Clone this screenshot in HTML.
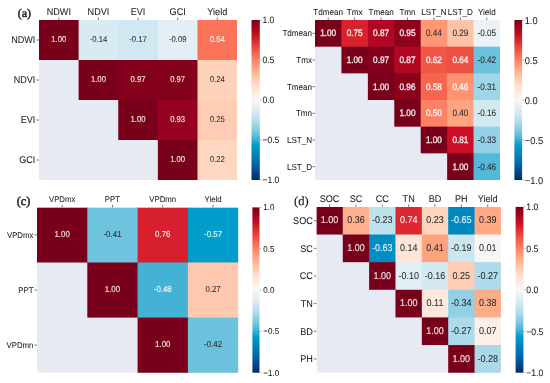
<!DOCTYPE html>
<html><head><meta charset="utf-8"><style>
html,body{margin:0;padding:0;background:#fff;}
body{width:550px;height:383px;overflow:hidden;}
svg{display:block;filter:blur(0.35px);}
text{text-rendering:geometricPrecision;}
text{font-family:"Liberation Sans",Arial,sans-serif;fill:#1e1e1e;stroke:#1e1e1e;stroke-width:0.06;}
.an{stroke-width:0.1;}
.w{stroke-width:0.35;}
.pl{font-family:"Liberation Serif","Times New Roman",serif;fill:#111;stroke:#111;stroke-width:0.4;}
.pd{stroke-width:0.12;}
.b{font-weight:bold;stroke-width:0;}
</style></head><body>
<svg width="550" height="383" viewBox="0 0 550 383">
<defs>
<linearGradient id="cbg" x1="0" y1="1" x2="0" y2="0">
<stop offset="0.0000" stop-color="#002c62"/>
<stop offset="0.0312" stop-color="#003f7b"/>
<stop offset="0.0625" stop-color="#005193"/>
<stop offset="0.0938" stop-color="#0063ab"/>
<stop offset="0.1250" stop-color="#0072b5"/>
<stop offset="0.1562" stop-color="#0081bd"/>
<stop offset="0.1875" stop-color="#008fc3"/>
<stop offset="0.2188" stop-color="#009ecb"/>
<stop offset="0.2500" stop-color="#38aed3"/>
<stop offset="0.2812" stop-color="#63bedb"/>
<stop offset="0.3125" stop-color="#83cbe2"/>
<stop offset="0.3438" stop-color="#9ed5e8"/>
<stop offset="0.3750" stop-color="#b7deed"/>
<stop offset="0.4062" stop-color="#cde7f1"/>
<stop offset="0.4375" stop-color="#dcedf3"/>
<stop offset="0.4688" stop-color="#eaf2f5"/>
<stop offset="0.5000" stop-color="#f8f7f6"/>
<stop offset="0.5312" stop-color="#fdeee7"/>
<stop offset="0.5625" stop-color="#ffe6d8"/>
<stop offset="0.5938" stop-color="#ffddc9"/>
<stop offset="0.6250" stop-color="#ffcdb4"/>
<stop offset="0.6562" stop-color="#ffbd9e"/>
<stop offset="0.6875" stop-color="#ffac88"/>
<stop offset="0.7188" stop-color="#ff9776"/>
<stop offset="0.7500" stop-color="#ff8165"/>
<stop offset="0.7812" stop-color="#f86b53"/>
<stop offset="0.8125" stop-color="#ef5445"/>
<stop offset="0.8438" stop-color="#e43c3a"/>
<stop offset="0.8750" stop-color="#d8232f"/>
<stop offset="0.9062" stop-color="#c80e26"/>
<stop offset="0.9375" stop-color="#ad0622"/>
<stop offset="0.9688" stop-color="#91011d"/>
<stop offset="1.0000" stop-color="#79001a"/>
</linearGradient>
</defs>
<clipPath id="clipa"><rect x="39" y="20" width="198.10" height="160.00"/></clipPath>
<g clip-path="url(#clipa)">
<rect x="39" y="20" width="198.10" height="160.00" fill="#e8eaf3"/>
<rect x="39.00" y="20.00" width="40.62" height="40.00" fill="#79001a"/>
<rect x="78.62" y="20.00" width="40.62" height="41.00" fill="#d8ebf3"/>
<rect x="118.24" y="20.00" width="40.62" height="41.00" fill="#d1e8f2"/>
<rect x="157.86" y="20.00" width="40.62" height="41.00" fill="#e3eff4"/>
<rect x="197.48" y="20.00" width="40.62" height="41.00" fill="#fb745a"/>
<rect x="78.62" y="60.00" width="40.62" height="40.00" fill="#79001a"/>
<rect x="118.24" y="60.00" width="40.62" height="41.00" fill="#83001b"/>
<rect x="157.86" y="60.00" width="40.62" height="41.00" fill="#83001b"/>
<rect x="197.48" y="60.00" width="40.62" height="41.00" fill="#ffd2ba"/>
<rect x="118.24" y="100.00" width="40.62" height="40.00" fill="#79001a"/>
<rect x="157.86" y="100.00" width="40.62" height="41.00" fill="#95011e"/>
<rect x="197.48" y="100.00" width="40.62" height="41.00" fill="#ffcdb4"/>
<rect x="157.86" y="140.00" width="40.62" height="41.00" fill="#79001a"/>
<rect x="197.48" y="140.00" width="40.62" height="41.00" fill="#ffd6bf"/>
</g>
<text transform="translate(58.81 42.25) scale(1 1.1)" text-anchor="middle" font-size="7.7" class="an w" style="fill:#efe0e3;stroke:#efe0e3;stroke-width:0.15">1.00</text>
<text transform="translate(98.43 42.25) scale(1 1.1)" text-anchor="middle" font-size="7.7" class="an" style="fill:#2a2a2a;stroke:#2a2a2a;stroke-width:0.05">-0.14</text>
<text transform="translate(138.05 42.25) scale(1 1.1)" text-anchor="middle" font-size="7.7" class="an" style="fill:#2a2a2a;stroke:#2a2a2a;stroke-width:0.05">-0.17</text>
<text transform="translate(177.67 42.25) scale(1 1.1)" text-anchor="middle" font-size="7.7" class="an" style="fill:#2a2a2a;stroke:#2a2a2a;stroke-width:0.05">-0.09</text>
<text transform="translate(217.29 42.25) scale(1 1.1)" text-anchor="middle" font-size="7.7" class="an w" style="fill:#ffeeeb;stroke:#ffeeeb;stroke-width:0.15">0.54</text>
<text transform="translate(98.43 82.25) scale(1 1.1)" text-anchor="middle" font-size="7.7" class="an w" style="fill:#efe0e3;stroke:#efe0e3;stroke-width:0.15">1.00</text>
<text transform="translate(138.05 82.25) scale(1 1.1)" text-anchor="middle" font-size="7.7" class="an w" style="fill:#f0e0e4;stroke:#f0e0e4;stroke-width:0.15">0.97</text>
<text transform="translate(177.67 82.25) scale(1 1.1)" text-anchor="middle" font-size="7.7" class="an w" style="fill:#f0e0e4;stroke:#f0e0e4;stroke-width:0.15">0.97</text>
<text transform="translate(217.29 82.25) scale(1 1.1)" text-anchor="middle" font-size="7.7" class="an" style="fill:#2a2a2a;stroke:#2a2a2a;stroke-width:0.05">0.24</text>
<text transform="translate(138.05 122.25) scale(1 1.1)" text-anchor="middle" font-size="7.7" class="an w" style="fill:#efe0e3;stroke:#efe0e3;stroke-width:0.15">1.00</text>
<text transform="translate(177.67 122.25) scale(1 1.1)" text-anchor="middle" font-size="7.7" class="an w" style="fill:#f2e1e4;stroke:#f2e1e4;stroke-width:0.15">0.93</text>
<text transform="translate(217.29 122.25) scale(1 1.1)" text-anchor="middle" font-size="7.7" class="an" style="fill:#2a2a2a;stroke:#2a2a2a;stroke-width:0.05">0.25</text>
<text transform="translate(177.67 162.25) scale(1 1.1)" text-anchor="middle" font-size="7.7" class="an w" style="fill:#efe0e3;stroke:#efe0e3;stroke-width:0.15">1.00</text>
<text transform="translate(217.29 162.25) scale(1 1.1)" text-anchor="middle" font-size="7.7" class="an" style="fill:#2a2a2a;stroke:#2a2a2a;stroke-width:0.05">0.22</text>
<text transform="translate(58.81 15.40) scale(1 1.07)" text-anchor="middle" font-size="9.1">NDWI</text>
<line x1="58.81" x2="58.81" y1="17.5" y2="20" stroke="#555" stroke-width="0.8"/>
<text transform="translate(98.43 15.40) scale(1 1.07)" text-anchor="middle" font-size="9.1">NDVI</text>
<line x1="98.43" x2="98.43" y1="17.5" y2="20" stroke="#555" stroke-width="0.8"/>
<text transform="translate(138.05 15.40) scale(1 1.07)" text-anchor="middle" font-size="9.1">EVI</text>
<line x1="138.05" x2="138.05" y1="17.5" y2="20" stroke="#555" stroke-width="0.8"/>
<text transform="translate(177.67 15.40) scale(1 1.07)" text-anchor="middle" font-size="9.1">GCI</text>
<line x1="177.67" x2="177.67" y1="17.5" y2="20" stroke="#555" stroke-width="0.8"/>
<text transform="translate(217.29 15.40) scale(1 1.07)" text-anchor="middle" font-size="9.1">Yield</text>
<line x1="217.29" x2="217.29" y1="17.5" y2="20" stroke="#555" stroke-width="0.8"/>
<text transform="translate(35.40 43.49) scale(1 1.07)" text-anchor="end" font-size="9.1">NDWI</text>
<line x1="36.5" x2="39" y1="40.00" y2="40.00" stroke="#555" stroke-width="0.8"/>
<text transform="translate(35.40 83.49) scale(1 1.07)" text-anchor="end" font-size="9.1">NDVI</text>
<line x1="36.5" x2="39" y1="80.00" y2="80.00" stroke="#555" stroke-width="0.8"/>
<text transform="translate(35.40 123.49) scale(1 1.07)" text-anchor="end" font-size="9.1">EVI</text>
<line x1="36.5" x2="39" y1="120.00" y2="120.00" stroke="#555" stroke-width="0.8"/>
<text transform="translate(35.40 163.49) scale(1 1.07)" text-anchor="end" font-size="9.1">GCI</text>
<line x1="36.5" x2="39" y1="160.00" y2="160.00" stroke="#555" stroke-width="0.8"/>
<rect x="251.5" y="20" width="8.30" height="160.00" fill="url(#cbg)"/>
<line x1="259.8" x2="261.8" y1="20.00" y2="20.00" stroke="#888" stroke-width="0.6"/>
<text transform="translate(262.40 23.29) scale(1 1.07)" font-size="8.6">1.0</text>
<line x1="259.8" x2="261.8" y1="60.00" y2="60.00" stroke="#888" stroke-width="0.6"/>
<text transform="translate(262.40 63.29) scale(1 1.07)" font-size="8.6">0.5</text>
<line x1="259.8" x2="261.8" y1="100.00" y2="100.00" stroke="#888" stroke-width="0.6"/>
<text transform="translate(262.40 103.29) scale(1 1.07)" font-size="8.6">0.0</text>
<line x1="259.8" x2="261.8" y1="140.00" y2="140.00" stroke="#888" stroke-width="0.6"/>
<text transform="translate(262.40 143.29) scale(1 1.07)" font-size="8.6">−0.5</text>
<line x1="259.8" x2="261.8" y1="180.00" y2="180.00" stroke="#888" stroke-width="0.6"/>
<text transform="translate(262.40 183.29) scale(1 1.07)" font-size="8.6">−1.0</text>
<text class="pl" x="17.8" y="17.0" font-size="12.0">(a)</text>
<clipPath id="clipb"><rect x="315" y="20" width="185.00" height="160.00"/></clipPath>
<g clip-path="url(#clipb)">
<rect x="315" y="20" width="185.00" height="160.00" fill="#e8eaf3"/>
<rect x="315.00" y="20.00" width="27.43" height="26.67" fill="#79001a"/>
<rect x="341.43" y="20.00" width="27.43" height="27.67" fill="#d8232f"/>
<rect x="367.86" y="20.00" width="27.43" height="27.67" fill="#b00722"/>
<rect x="394.29" y="20.00" width="27.43" height="27.67" fill="#8e011d"/>
<rect x="420.71" y="20.00" width="27.43" height="27.67" fill="#ff9776"/>
<rect x="447.14" y="20.00" width="27.43" height="27.67" fill="#ffc3a7"/>
<rect x="473.57" y="20.00" width="27.43" height="27.67" fill="#ecf3f6"/>
<rect x="341.43" y="46.67" width="27.43" height="26.67" fill="#79001a"/>
<rect x="367.86" y="46.67" width="27.43" height="27.67" fill="#83001b"/>
<rect x="394.29" y="46.67" width="27.43" height="27.67" fill="#b00722"/>
<rect x="420.71" y="46.67" width="27.43" height="27.67" fill="#f05747"/>
<rect x="447.14" y="46.67" width="27.43" height="27.67" fill="#ed5144"/>
<rect x="473.57" y="46.67" width="27.43" height="27.67" fill="#6cc1dd"/>
<rect x="367.86" y="73.33" width="27.43" height="26.67" fill="#79001a"/>
<rect x="394.29" y="73.33" width="27.43" height="27.67" fill="#8a011c"/>
<rect x="420.71" y="73.33" width="27.43" height="27.67" fill="#f6664f"/>
<rect x="447.14" y="73.33" width="27.43" height="27.67" fill="#ff9271"/>
<rect x="473.57" y="73.33" width="27.43" height="27.67" fill="#9ed5e8"/>
<rect x="394.29" y="100.00" width="27.43" height="26.67" fill="#79001a"/>
<rect x="420.71" y="100.00" width="27.43" height="27.67" fill="#ff8165"/>
<rect x="447.14" y="100.00" width="27.43" height="27.67" fill="#ffa580"/>
<rect x="473.57" y="100.00" width="27.43" height="27.67" fill="#d3e9f2"/>
<rect x="420.71" y="126.67" width="27.43" height="26.67" fill="#79001a"/>
<rect x="447.14" y="126.67" width="27.43" height="27.67" fill="#cb0f26"/>
<rect x="473.57" y="126.67" width="27.43" height="27.67" fill="#94d1e6"/>
<rect x="447.14" y="153.33" width="27.43" height="27.67" fill="#79001a"/>
<rect x="473.57" y="153.33" width="27.43" height="27.67" fill="#54b8d8"/>
</g>
<text transform="translate(328.21 36.43) scale(1 1.15)" text-anchor="middle" font-size="8.2" class="an w" style="fill:#efe0e3;stroke:#efe0e3;stroke-width:0.35">1.00</text>
<text transform="translate(354.64 36.43) scale(1 1.15)" text-anchor="middle" font-size="8.2" class="an w" style="fill:#fae5e6;stroke:#fae5e6;stroke-width:0.35">0.75</text>
<text transform="translate(381.07 36.43) scale(1 1.15)" text-anchor="middle" font-size="8.2" class="an w" style="fill:#f6e1e5;stroke:#f6e1e5;stroke-width:0.35">0.87</text>
<text transform="translate(407.50 36.43) scale(1 1.15)" text-anchor="middle" font-size="8.2" class="an w" style="fill:#f1e0e4;stroke:#f1e0e4;stroke-width:0.35">0.95</text>
<text transform="translate(433.93 36.43) scale(1 1.15)" text-anchor="middle" font-size="8.2" class="an" style="fill:#2a2a2a;stroke:#2a2a2a;stroke-width:0.05">0.44</text>
<text transform="translate(460.36 36.43) scale(1 1.15)" text-anchor="middle" font-size="8.2" class="an" style="fill:#2a2a2a;stroke:#2a2a2a;stroke-width:0.05">0.29</text>
<text transform="translate(486.79 36.43) scale(1 1.15)" text-anchor="middle" font-size="8.2" class="an" style="fill:#2a2a2a;stroke:#2a2a2a;stroke-width:0.05">-0.05</text>
<text transform="translate(354.64 63.09) scale(1 1.15)" text-anchor="middle" font-size="8.2" class="an w" style="fill:#efe0e3;stroke:#efe0e3;stroke-width:0.35">1.00</text>
<text transform="translate(381.07 63.09) scale(1 1.15)" text-anchor="middle" font-size="8.2" class="an w" style="fill:#f0e0e4;stroke:#f0e0e4;stroke-width:0.35">0.97</text>
<text transform="translate(407.50 63.09) scale(1 1.15)" text-anchor="middle" font-size="8.2" class="an w" style="fill:#f6e1e5;stroke:#f6e1e5;stroke-width:0.35">0.87</text>
<text transform="translate(433.93 63.09) scale(1 1.15)" text-anchor="middle" font-size="8.2" class="an w" style="fill:#fdebe9;stroke:#fdebe9;stroke-width:0.35">0.62</text>
<text transform="translate(460.36 63.09) scale(1 1.15)" text-anchor="middle" font-size="8.2" class="an w" style="fill:#fdeae9;stroke:#fdeae9;stroke-width:0.35">0.64</text>
<text transform="translate(486.79 63.09) scale(1 1.15)" text-anchor="middle" font-size="8.2" class="an" style="fill:#2a2a2a;stroke:#2a2a2a;stroke-width:0.05">-0.42</text>
<text transform="translate(381.07 89.76) scale(1 1.15)" text-anchor="middle" font-size="8.2" class="an w" style="fill:#efe0e3;stroke:#efe0e3;stroke-width:0.35">1.00</text>
<text transform="translate(407.50 89.76) scale(1 1.15)" text-anchor="middle" font-size="8.2" class="an w" style="fill:#f1e0e4;stroke:#f1e0e4;stroke-width:0.35">0.96</text>
<text transform="translate(433.93 89.76) scale(1 1.15)" text-anchor="middle" font-size="8.2" class="an w" style="fill:#feedea;stroke:#feedea;stroke-width:0.35">0.58</text>
<text transform="translate(460.36 89.76) scale(1 1.15)" text-anchor="middle" font-size="8.2" class="an w" style="fill:#fff2ee;stroke:#fff2ee;stroke-width:0.35">0.46</text>
<text transform="translate(486.79 89.76) scale(1 1.15)" text-anchor="middle" font-size="8.2" class="an" style="fill:#2a2a2a;stroke:#2a2a2a;stroke-width:0.05">-0.31</text>
<text transform="translate(407.50 116.43) scale(1 1.15)" text-anchor="middle" font-size="8.2" class="an w" style="fill:#efe0e3;stroke:#efe0e3;stroke-width:0.35">1.00</text>
<text transform="translate(433.93 116.43) scale(1 1.15)" text-anchor="middle" font-size="8.2" class="an w" style="fill:#fff0ec;stroke:#fff0ec;stroke-width:0.35">0.50</text>
<text transform="translate(460.36 116.43) scale(1 1.15)" text-anchor="middle" font-size="8.2" class="an" style="fill:#2a2a2a;stroke:#2a2a2a;stroke-width:0.05">0.40</text>
<text transform="translate(486.79 116.43) scale(1 1.15)" text-anchor="middle" font-size="8.2" class="an" style="fill:#2a2a2a;stroke:#2a2a2a;stroke-width:0.05">-0.16</text>
<text transform="translate(433.93 143.09) scale(1 1.15)" text-anchor="middle" font-size="8.2" class="an w" style="fill:#efe0e3;stroke:#efe0e3;stroke-width:0.35">1.00</text>
<text transform="translate(460.36 143.09) scale(1 1.15)" text-anchor="middle" font-size="8.2" class="an w" style="fill:#f9e2e5;stroke:#f9e2e5;stroke-width:0.35">0.81</text>
<text transform="translate(486.79 143.09) scale(1 1.15)" text-anchor="middle" font-size="8.2" class="an" style="fill:#2a2a2a;stroke:#2a2a2a;stroke-width:0.05">-0.33</text>
<text transform="translate(460.36 169.76) scale(1 1.15)" text-anchor="middle" font-size="8.2" class="an w" style="fill:#efe0e3;stroke:#efe0e3;stroke-width:0.35">1.00</text>
<text transform="translate(486.79 169.76) scale(1 1.15)" text-anchor="middle" font-size="8.2" class="an" style="fill:#2a2a2a;stroke:#2a2a2a;stroke-width:0.05">-0.46</text>
<text transform="translate(328.21 15.40) scale(1 1.07)" text-anchor="middle" font-size="8.1">Tdmean</text>
<line x1="328.21" x2="328.21" y1="17.5" y2="20" stroke="#555" stroke-width="0.8"/>
<text transform="translate(354.64 15.40) scale(1 1.07)" text-anchor="middle" font-size="8.1">Tmx</text>
<line x1="354.64" x2="354.64" y1="17.5" y2="20" stroke="#555" stroke-width="0.8"/>
<text transform="translate(381.07 15.40) scale(1 1.07)" text-anchor="middle" font-size="8.1">Tmean</text>
<line x1="381.07" x2="381.07" y1="17.5" y2="20" stroke="#555" stroke-width="0.8"/>
<text transform="translate(407.50 15.40) scale(1 1.07)" text-anchor="middle" font-size="8.1">Tmn</text>
<line x1="407.50" x2="407.50" y1="17.5" y2="20" stroke="#555" stroke-width="0.8"/>
<text transform="translate(433.93 15.40) scale(1 1.07)" text-anchor="middle" font-size="8.1">LST_N</text>
<line x1="433.93" x2="433.93" y1="17.5" y2="20" stroke="#555" stroke-width="0.8"/>
<text transform="translate(460.36 15.40) scale(1 1.07)" text-anchor="middle" font-size="8.1">LST_D</text>
<line x1="460.36" x2="460.36" y1="17.5" y2="20" stroke="#555" stroke-width="0.8"/>
<text transform="translate(486.79 15.40) scale(1 1.07)" text-anchor="middle" font-size="8.1">Yield</text>
<line x1="486.79" x2="486.79" y1="17.5" y2="20" stroke="#555" stroke-width="0.8"/>
<text transform="translate(312.10 36.44) scale(1 1.07)" text-anchor="end" font-size="8.1">Tdmean</text>
<line x1="312.5" x2="315" y1="33.33" y2="33.33" stroke="#555" stroke-width="0.8"/>
<text transform="translate(312.10 63.10) scale(1 1.07)" text-anchor="end" font-size="8.1">Tmx</text>
<line x1="312.5" x2="315" y1="60.00" y2="60.00" stroke="#555" stroke-width="0.8"/>
<text transform="translate(312.10 89.77) scale(1 1.07)" text-anchor="end" font-size="8.1">Tmean</text>
<line x1="312.5" x2="315" y1="86.67" y2="86.67" stroke="#555" stroke-width="0.8"/>
<text transform="translate(312.10 116.44) scale(1 1.07)" text-anchor="end" font-size="8.1">Tmn</text>
<line x1="312.5" x2="315" y1="113.33" y2="113.33" stroke="#555" stroke-width="0.8"/>
<text transform="translate(312.10 143.10) scale(1 1.07)" text-anchor="end" font-size="8.1">LST_N</text>
<line x1="312.5" x2="315" y1="140.00" y2="140.00" stroke="#555" stroke-width="0.8"/>
<text transform="translate(312.10 169.77) scale(1 1.07)" text-anchor="end" font-size="8.1">LST_D</text>
<line x1="312.5" x2="315" y1="166.67" y2="166.67" stroke="#555" stroke-width="0.8"/>
<rect x="514.4" y="20" width="7.70" height="160.00" fill="url(#cbg)"/>
<line x1="522.1" x2="524.1" y1="20.00" y2="20.00" stroke="#888" stroke-width="0.6"/>
<text transform="translate(524.70 23.56) scale(1 1.07)" font-size="9.3">1.0</text>
<line x1="522.1" x2="524.1" y1="60.00" y2="60.00" stroke="#888" stroke-width="0.6"/>
<text transform="translate(524.70 63.56) scale(1 1.07)" font-size="9.3">0.5</text>
<line x1="522.1" x2="524.1" y1="100.00" y2="100.00" stroke="#888" stroke-width="0.6"/>
<text transform="translate(524.70 103.56) scale(1 1.07)" font-size="9.3">0.0</text>
<line x1="522.1" x2="524.1" y1="140.00" y2="140.00" stroke="#888" stroke-width="0.6"/>
<text transform="translate(524.70 143.56) scale(1 1.07)" font-size="9.3">−0.5</text>
<line x1="522.1" x2="524.1" y1="180.00" y2="180.00" stroke="#888" stroke-width="0.6"/>
<text transform="translate(524.70 183.56) scale(1 1.07)" font-size="9.3">−1.0</text>
<clipPath id="clipc"><rect x="37" y="207.4" width="201.20" height="165.30"/></clipPath>
<g clip-path="url(#clipc)">
<rect x="37" y="207.4" width="201.20" height="165.30" fill="#e8eaf3"/>
<rect x="37.00" y="207.40" width="51.30" height="55.10" fill="#79001a"/>
<rect x="87.30" y="207.40" width="51.30" height="56.10" fill="#70c3de"/>
<rect x="137.60" y="207.40" width="51.30" height="56.10" fill="#d71f2e"/>
<rect x="187.90" y="207.40" width="51.30" height="56.10" fill="#009cca"/>
<rect x="87.30" y="262.50" width="51.30" height="55.10" fill="#79001a"/>
<rect x="137.60" y="262.50" width="51.30" height="56.10" fill="#44b2d5"/>
<rect x="187.90" y="262.50" width="51.30" height="56.10" fill="#ffc9af"/>
<rect x="137.60" y="317.60" width="51.30" height="56.10" fill="#79001a"/>
<rect x="187.90" y="317.60" width="51.30" height="56.10" fill="#6cc1dd"/>
</g>
<text transform="translate(62.15 237.28) scale(1 1.1)" text-anchor="middle" font-size="7.9" class="an w" style="fill:#efe0e3;stroke:#efe0e3;stroke-width:0.15">1.00</text>
<text transform="translate(112.45 237.28) scale(1 1.1)" text-anchor="middle" font-size="7.9" class="an" style="fill:#2a2a2a;stroke:#2a2a2a;stroke-width:0.05">-0.41</text>
<text transform="translate(162.75 237.28) scale(1 1.1)" text-anchor="middle" font-size="7.9" class="an w" style="fill:#fae4e6;stroke:#fae4e6;stroke-width:0.15">0.76</text>
<text transform="translate(213.05 237.28) scale(1 1.1)" text-anchor="middle" font-size="7.9" class="an w" style="fill:#e0f3f9;stroke:#e0f3f9;stroke-width:0.15">-0.57</text>
<text transform="translate(112.45 292.38) scale(1 1.1)" text-anchor="middle" font-size="7.9" class="an w" style="fill:#efe0e3;stroke:#efe0e3;stroke-width:0.15">1.00</text>
<text transform="translate(162.75 292.38) scale(1 1.1)" text-anchor="middle" font-size="7.9" class="an w" style="fill:#e9f6fa;stroke:#e9f6fa;stroke-width:0.15">-0.48</text>
<text transform="translate(213.05 292.38) scale(1 1.1)" text-anchor="middle" font-size="7.9" class="an" style="fill:#2a2a2a;stroke:#2a2a2a;stroke-width:0.05">0.27</text>
<text transform="translate(162.75 347.48) scale(1 1.1)" text-anchor="middle" font-size="7.9" class="an w" style="fill:#efe0e3;stroke:#efe0e3;stroke-width:0.15">1.00</text>
<text transform="translate(213.05 347.48) scale(1 1.1)" text-anchor="middle" font-size="7.9" class="an" style="fill:#2a2a2a;stroke:#2a2a2a;stroke-width:0.05">-0.42</text>
<text transform="translate(62.15 202.40) scale(1 1.07)" text-anchor="middle" font-size="7.8">VPDmx</text>
<line x1="62.15" x2="62.15" y1="204.9" y2="207.4" stroke="#555" stroke-width="0.8"/>
<text transform="translate(112.45 202.40) scale(1 1.07)" text-anchor="middle" font-size="7.8">PPT</text>
<line x1="112.45" x2="112.45" y1="204.9" y2="207.4" stroke="#555" stroke-width="0.8"/>
<text transform="translate(162.75 202.40) scale(1 1.07)" text-anchor="middle" font-size="7.8">VPDmn</text>
<line x1="162.75" x2="162.75" y1="204.9" y2="207.4" stroke="#555" stroke-width="0.8"/>
<text transform="translate(213.05 202.40) scale(1 1.07)" text-anchor="middle" font-size="7.8">Yield</text>
<line x1="213.05" x2="213.05" y1="204.9" y2="207.4" stroke="#555" stroke-width="0.8"/>
<text transform="translate(33.40 237.94) scale(1 1.07)" text-anchor="end" font-size="7.8">VPDmx</text>
<line x1="34.5" x2="37" y1="234.95" y2="234.95" stroke="#555" stroke-width="0.8"/>
<text transform="translate(33.40 293.04) scale(1 1.07)" text-anchor="end" font-size="7.8">PPT</text>
<line x1="34.5" x2="37" y1="290.05" y2="290.05" stroke="#555" stroke-width="0.8"/>
<text transform="translate(33.40 348.14) scale(1 1.07)" text-anchor="end" font-size="7.8">VPDmn</text>
<line x1="34.5" x2="37" y1="345.15" y2="345.15" stroke="#555" stroke-width="0.8"/>
<rect x="252.4" y="207.4" width="7.10" height="165.30" fill="url(#cbg)"/>
<line x1="259.5" x2="261.5" y1="207.40" y2="207.40" stroke="#888" stroke-width="0.6"/>
<text transform="translate(263.30 210.46) scale(1 1.07)" font-size="8.0">1.0</text>
<line x1="259.5" x2="261.5" y1="248.72" y2="248.72" stroke="#888" stroke-width="0.6"/>
<text transform="translate(263.30 251.79) scale(1 1.07)" font-size="8.0">0.5</text>
<line x1="259.5" x2="261.5" y1="290.05" y2="290.05" stroke="#888" stroke-width="0.6"/>
<text transform="translate(263.30 293.11) scale(1 1.07)" font-size="8.0">0.0</text>
<line x1="259.5" x2="261.5" y1="331.38" y2="331.38" stroke="#888" stroke-width="0.6"/>
<text transform="translate(263.30 334.44) scale(1 1.07)" font-size="8.0">−0.5</text>
<line x1="259.5" x2="261.5" y1="372.70" y2="372.70" stroke="#888" stroke-width="0.6"/>
<text transform="translate(263.30 375.76) scale(1 1.07)" font-size="8.0">−1.0</text>
<text class="pl" x="16.8" y="205.1" font-size="12.2">(c)</text>
<clipPath id="clipd"><rect x="316.4" y="206.9" width="184.50" height="165.80"/></clipPath>
<g clip-path="url(#clipd)">
<rect x="316.4" y="206.9" width="184.50" height="165.80" fill="#e8eaf3"/>
<rect x="316.40" y="206.90" width="27.36" height="27.63" fill="#79001a"/>
<rect x="342.76" y="206.90" width="27.36" height="28.63" fill="#ffb08e"/>
<rect x="369.11" y="206.90" width="27.36" height="28.63" fill="#bee1ee"/>
<rect x="395.47" y="206.90" width="27.36" height="28.63" fill="#db2932"/>
<rect x="421.83" y="206.90" width="27.36" height="28.63" fill="#ffd4bd"/>
<rect x="448.19" y="206.90" width="27.36" height="28.63" fill="#0088c0"/>
<rect x="474.54" y="206.90" width="27.36" height="28.63" fill="#ffaa85"/>
<rect x="342.76" y="234.53" width="27.36" height="27.63" fill="#79001a"/>
<rect x="369.11" y="234.53" width="27.36" height="28.63" fill="#008dc3"/>
<rect x="395.47" y="234.53" width="27.36" height="28.63" fill="#ffe5d7"/>
<rect x="421.83" y="234.53" width="27.36" height="28.63" fill="#ffa27e"/>
<rect x="448.19" y="234.53" width="27.36" height="28.63" fill="#cbe6f1"/>
<rect x="474.54" y="234.53" width="27.36" height="28.63" fill="#f8f6f4"/>
<rect x="369.11" y="262.17" width="27.36" height="27.63" fill="#79001a"/>
<rect x="395.47" y="262.17" width="27.36" height="28.63" fill="#e1eff4"/>
<rect x="421.83" y="262.17" width="27.36" height="28.63" fill="#d3e9f2"/>
<rect x="448.19" y="262.17" width="27.36" height="28.63" fill="#ffcdb4"/>
<rect x="474.54" y="262.17" width="27.36" height="28.63" fill="#aedbeb"/>
<rect x="395.47" y="289.80" width="27.36" height="27.63" fill="#79001a"/>
<rect x="421.83" y="289.80" width="27.36" height="28.63" fill="#ffe8dc"/>
<rect x="448.19" y="289.80" width="27.36" height="28.63" fill="#91d0e5"/>
<rect x="474.54" y="289.80" width="27.36" height="28.63" fill="#ffac88"/>
<rect x="421.83" y="317.43" width="27.36" height="27.63" fill="#79001a"/>
<rect x="448.19" y="317.43" width="27.36" height="28.63" fill="#aedbeb"/>
<rect x="474.54" y="317.43" width="27.36" height="28.63" fill="#fdeee7"/>
<rect x="448.19" y="345.07" width="27.36" height="28.63" fill="#79001a"/>
<rect x="474.54" y="345.07" width="27.36" height="28.63" fill="#abd9ea"/>
</g>
<text transform="translate(329.58 223.48) scale(1 1.1)" text-anchor="middle" font-size="9.0" class="an w" style="fill:#efe0e3;stroke:#efe0e3;stroke-width:0.15">1.00</text>
<text transform="translate(355.94 223.48) scale(1 1.1)" text-anchor="middle" font-size="9.0" class="an" style="fill:#2a2a2a;stroke:#2a2a2a;stroke-width:0.05">0.36</text>
<text transform="translate(382.29 223.48) scale(1 1.1)" text-anchor="middle" font-size="9.0" class="an" style="fill:#2a2a2a;stroke:#2a2a2a;stroke-width:0.05">-0.23</text>
<text transform="translate(408.65 223.48) scale(1 1.1)" text-anchor="middle" font-size="9.0" class="an w" style="fill:#fbe5e6;stroke:#fbe5e6;stroke-width:0.15">0.74</text>
<text transform="translate(435.01 223.48) scale(1 1.1)" text-anchor="middle" font-size="9.0" class="an" style="fill:#2a2a2a;stroke:#2a2a2a;stroke-width:0.05">0.23</text>
<text transform="translate(461.36 223.48) scale(1 1.1)" text-anchor="middle" font-size="9.0" class="an w" style="fill:#e0f1f7;stroke:#e0f1f7;stroke-width:0.15">-0.65</text>
<text transform="translate(487.72 223.48) scale(1 1.1)" text-anchor="middle" font-size="9.0" class="an" style="fill:#2a2a2a;stroke:#2a2a2a;stroke-width:0.05">0.39</text>
<text transform="translate(355.94 251.11) scale(1 1.1)" text-anchor="middle" font-size="9.0" class="an w" style="fill:#efe0e3;stroke:#efe0e3;stroke-width:0.15">1.00</text>
<text transform="translate(382.29 251.11) scale(1 1.1)" text-anchor="middle" font-size="9.0" class="an w" style="fill:#e0f1f8;stroke:#e0f1f8;stroke-width:0.15">-0.63</text>
<text transform="translate(408.65 251.11) scale(1 1.1)" text-anchor="middle" font-size="9.0" class="an" style="fill:#2a2a2a;stroke:#2a2a2a;stroke-width:0.05">0.14</text>
<text transform="translate(435.01 251.11) scale(1 1.1)" text-anchor="middle" font-size="9.0" class="an" style="fill:#2a2a2a;stroke:#2a2a2a;stroke-width:0.05">0.41</text>
<text transform="translate(461.36 251.11) scale(1 1.1)" text-anchor="middle" font-size="9.0" class="an" style="fill:#2a2a2a;stroke:#2a2a2a;stroke-width:0.05">-0.19</text>
<text transform="translate(487.72 251.11) scale(1 1.1)" text-anchor="middle" font-size="9.0" class="an" style="fill:#2a2a2a;stroke:#2a2a2a;stroke-width:0.05">0.01</text>
<text transform="translate(382.29 278.75) scale(1 1.1)" text-anchor="middle" font-size="9.0" class="an w" style="fill:#efe0e3;stroke:#efe0e3;stroke-width:0.15">1.00</text>
<text transform="translate(408.65 278.75) scale(1 1.1)" text-anchor="middle" font-size="9.0" class="an" style="fill:#2a2a2a;stroke:#2a2a2a;stroke-width:0.05">-0.10</text>
<text transform="translate(435.01 278.75) scale(1 1.1)" text-anchor="middle" font-size="9.0" class="an" style="fill:#2a2a2a;stroke:#2a2a2a;stroke-width:0.05">-0.16</text>
<text transform="translate(461.36 278.75) scale(1 1.1)" text-anchor="middle" font-size="9.0" class="an" style="fill:#2a2a2a;stroke:#2a2a2a;stroke-width:0.05">0.25</text>
<text transform="translate(487.72 278.75) scale(1 1.1)" text-anchor="middle" font-size="9.0" class="an" style="fill:#2a2a2a;stroke:#2a2a2a;stroke-width:0.05">-0.27</text>
<text transform="translate(408.65 306.38) scale(1 1.1)" text-anchor="middle" font-size="9.0" class="an w" style="fill:#efe0e3;stroke:#efe0e3;stroke-width:0.15">1.00</text>
<text transform="translate(435.01 306.38) scale(1 1.1)" text-anchor="middle" font-size="9.0" class="an" style="fill:#2a2a2a;stroke:#2a2a2a;stroke-width:0.05">0.11</text>
<text transform="translate(461.36 306.38) scale(1 1.1)" text-anchor="middle" font-size="9.0" class="an" style="fill:#2a2a2a;stroke:#2a2a2a;stroke-width:0.05">-0.34</text>
<text transform="translate(487.72 306.38) scale(1 1.1)" text-anchor="middle" font-size="9.0" class="an" style="fill:#2a2a2a;stroke:#2a2a2a;stroke-width:0.05">0.38</text>
<text transform="translate(435.01 334.01) scale(1 1.1)" text-anchor="middle" font-size="9.0" class="an w" style="fill:#efe0e3;stroke:#efe0e3;stroke-width:0.15">1.00</text>
<text transform="translate(461.36 334.01) scale(1 1.1)" text-anchor="middle" font-size="9.0" class="an" style="fill:#2a2a2a;stroke:#2a2a2a;stroke-width:0.05">-0.27</text>
<text transform="translate(487.72 334.01) scale(1 1.1)" text-anchor="middle" font-size="9.0" class="an" style="fill:#2a2a2a;stroke:#2a2a2a;stroke-width:0.05">0.07</text>
<text transform="translate(461.36 361.65) scale(1 1.1)" text-anchor="middle" font-size="9.0" class="an w" style="fill:#efe0e3;stroke:#efe0e3;stroke-width:0.15">1.00</text>
<text transform="translate(487.72 361.65) scale(1 1.1)" text-anchor="middle" font-size="9.0" class="an" style="fill:#2a2a2a;stroke:#2a2a2a;stroke-width:0.05">-0.28</text>
<text transform="translate(329.58 202.30) scale(1 1.07)" text-anchor="middle" font-size="9.1">SOC</text>
<line x1="329.58" x2="329.58" y1="204.4" y2="206.9" stroke="#555" stroke-width="0.8"/>
<text transform="translate(355.94 202.30) scale(1 1.07)" text-anchor="middle" font-size="9.1">SC</text>
<line x1="355.94" x2="355.94" y1="204.4" y2="206.9" stroke="#555" stroke-width="0.8"/>
<text transform="translate(382.29 202.30) scale(1 1.07)" text-anchor="middle" font-size="9.1">CC</text>
<line x1="382.29" x2="382.29" y1="204.4" y2="206.9" stroke="#555" stroke-width="0.8"/>
<text transform="translate(408.65 202.30) scale(1 1.07)" text-anchor="middle" font-size="9.1">TN</text>
<line x1="408.65" x2="408.65" y1="204.4" y2="206.9" stroke="#555" stroke-width="0.8"/>
<text transform="translate(435.01 202.30) scale(1 1.07)" text-anchor="middle" font-size="9.1">BD</text>
<line x1="435.01" x2="435.01" y1="204.4" y2="206.9" stroke="#555" stroke-width="0.8"/>
<text transform="translate(461.36 202.30) scale(1 1.07)" text-anchor="middle" font-size="9.1">PH</text>
<line x1="461.36" x2="461.36" y1="204.4" y2="206.9" stroke="#555" stroke-width="0.8"/>
<text transform="translate(487.72 202.30) scale(1 1.07)" text-anchor="middle" font-size="9.1">Yield</text>
<line x1="487.72" x2="487.72" y1="204.4" y2="206.9" stroke="#555" stroke-width="0.8"/>
<text transform="translate(312.80 224.20) scale(1 1.07)" text-anchor="end" font-size="9.1">SOC</text>
<line x1="313.9" x2="316.4" y1="220.72" y2="220.72" stroke="#555" stroke-width="0.8"/>
<text transform="translate(312.80 251.84) scale(1 1.07)" text-anchor="end" font-size="9.1">SC</text>
<line x1="313.9" x2="316.4" y1="248.35" y2="248.35" stroke="#555" stroke-width="0.8"/>
<text transform="translate(312.80 279.47) scale(1 1.07)" text-anchor="end" font-size="9.1">CC</text>
<line x1="313.9" x2="316.4" y1="275.98" y2="275.98" stroke="#555" stroke-width="0.8"/>
<text transform="translate(312.80 307.10) scale(1 1.07)" text-anchor="end" font-size="9.1">TN</text>
<line x1="313.9" x2="316.4" y1="303.62" y2="303.62" stroke="#555" stroke-width="0.8"/>
<text transform="translate(312.80 334.74) scale(1 1.07)" text-anchor="end" font-size="9.1">BD</text>
<line x1="313.9" x2="316.4" y1="331.25" y2="331.25" stroke="#555" stroke-width="0.8"/>
<text transform="translate(312.80 362.37) scale(1 1.07)" text-anchor="end" font-size="9.1">PH</text>
<line x1="313.9" x2="316.4" y1="358.88" y2="358.88" stroke="#555" stroke-width="0.8"/>
<rect x="515.6" y="206.9" width="7.80" height="165.80" fill="url(#cbg)"/>
<line x1="523.4" x2="525.4" y1="206.90" y2="206.90" stroke="#888" stroke-width="0.6"/>
<text transform="translate(526.30 210.23) scale(1 1.07)" font-size="8.7">1.0</text>
<line x1="523.4" x2="525.4" y1="248.35" y2="248.35" stroke="#888" stroke-width="0.6"/>
<text transform="translate(526.30 251.68) scale(1 1.07)" font-size="8.7">0.5</text>
<line x1="523.4" x2="525.4" y1="289.80" y2="289.80" stroke="#888" stroke-width="0.6"/>
<text transform="translate(526.30 293.13) scale(1 1.07)" font-size="8.7">0.0</text>
<line x1="523.4" x2="525.4" y1="331.25" y2="331.25" stroke="#888" stroke-width="0.6"/>
<text transform="translate(526.30 334.58) scale(1 1.07)" font-size="8.7">−0.5</text>
<line x1="523.4" x2="525.4" y1="372.70" y2="372.70" stroke="#888" stroke-width="0.6"/>
<text transform="translate(526.30 376.03) scale(1 1.07)" font-size="8.7">−1.0</text>
<text class="pl pd" x="294.1" y="204.5" font-size="12.5">(d)</text>
</svg>
</body></html>
